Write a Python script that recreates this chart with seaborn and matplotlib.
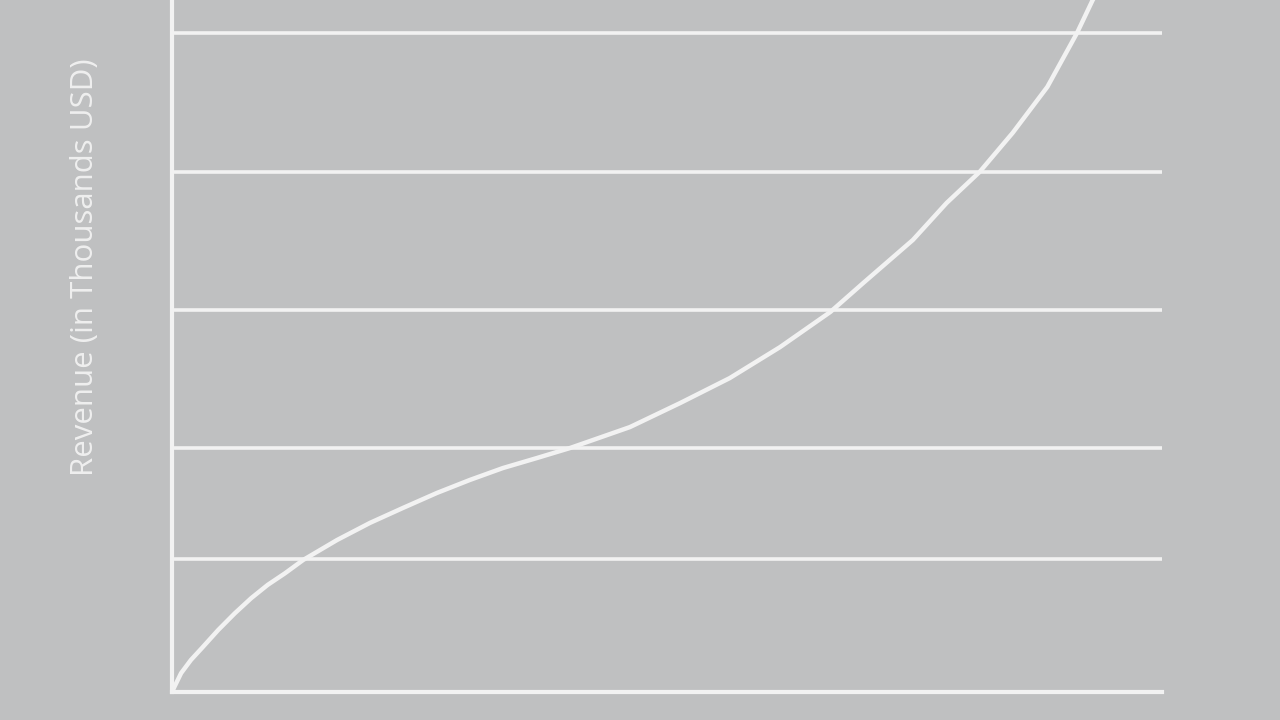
import numpy as np
import pandas as pd
import matplotlib
matplotlib.use("Agg")
import matplotlib.pyplot as plt
import seaborn as sns

# Data (x in arbitrary period units, revenue in thousands USD)
period = [0.00, 0.03, 0.11, 0.23, 0.36, 0.56, 0.76, 0.96, 1.16, 1.37, 1.59,
          2.00, 2.40, 2.80, 3.21, 3.61, 4.01, 4.42, 4.82, 5.55, 6.16, 6.76,
          7.37, 7.98, 8.38, 8.98, 9.39, 9.79, 10.19, 10.61, 10.97, 11.16, 11.25]
revenue = [0.0, 1.9, 6.8, 11.6, 15.8, 22.4, 28.4, 33.9, 38.7, 42.9, 47.7,
           54.9, 61.1, 66.5, 71.9, 76.6, 80.9, 84.5, 88.1, 95.7, 104.4, 113.4,
           124.6, 137.3, 147.8, 163.3, 176.7, 187.9, 202.0, 218.6, 238.1, 250.0, 254.3]
grid_levels = [0, 48, 88, 138, 188, 238]
y_label = "Revenue (in Thousands USD)"

df = pd.DataFrame({"period": period, "revenue": revenue})

sns.set_theme(style="white")
plt.rcParams['font.family'] = ['Open Sans', 'DejaVu Sans']

bg = "#bfc0c1"
white = "#f2f2f2"

fig = plt.figure(figsize=(12.8, 7.2), dpi=100, facecolor=bg)
ax = fig.add_axes([172/1280, 28/720, (1162-172)/1280, 692/720])
ax.set_facecolor(bg)

sns.lineplot(data=df, x="period", y="revenue", ax=ax, color=white, linewidth=3.2,
             solid_capstyle="round", solid_joinstyle="round")

ax.set_xlim(0, 12)
ax.set_ylim(0, 250)
ax.set_yticks(grid_levels)
ax.set_xticks([])
ax.tick_params(left=False, bottom=False, labelleft=False, labelbottom=False)
ax.yaxis.grid(True, color=white, linewidth=2.6)
ax.set_axisbelow(True)

for s in ["top", "right"]:
    ax.spines[s].set_visible(False)
for s in ["left", "bottom"]:
    ax.spines[s].set_color(white)
    ax.spines[s].set_linewidth(3)

ax.set_xlabel("")
ax.set_ylabel(y_label, color="#efefef", fontsize=22.5)
ax.yaxis.set_label_coords(-72/990, (692-267)/692)

fig.savefig("out.png", dpi=100, facecolor=bg)
